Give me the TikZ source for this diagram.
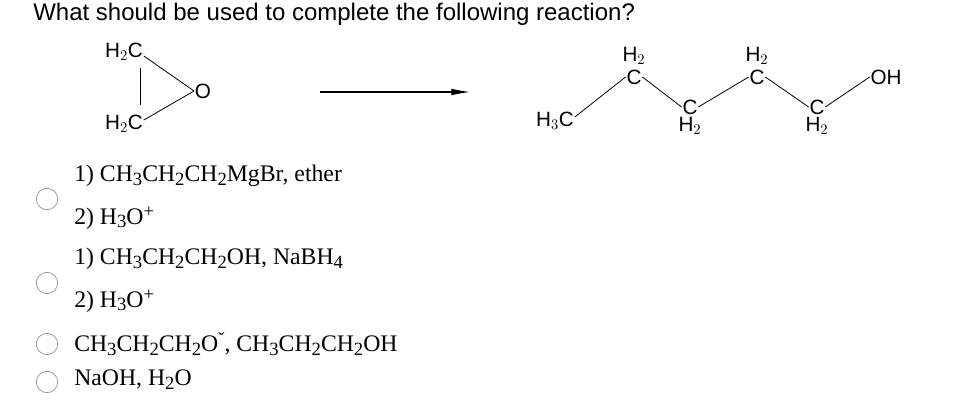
\documentclass[tikz,border=0pt]{standalone}
\usepackage{fontspec}
\setmainfont{Liberation Serif}
\setsansfont{Liberation Sans}
\usetikzlibrary{arrows.meta}
\newcommand{\sbx}[1]{\raisebox{-0.35ex}{\fontsize{14}{14}\selectfont #1}}
\newcommand{\spx}[1]{\raisebox{0.6ex}{\fontsize{14}{14}\selectfont #1}}
\begin{document}
\begin{tikzpicture}[x=0.75pt,y=-0.75pt,
  lab/.style={font=\sffamily\fontsize{15.5}{15}\selectfont,inner sep=0.5pt},
  opt/.style={font=\fontsize{17.8}{19}\selectfont,anchor=west,inner sep=0},
  radio/.style={draw=gray!80,circle,minimum size=16pt,inner sep=0,line width=0.6pt},
  bond/.style={line width=0.6pt}]
\useasboundingbox (0,0) rectangle (974,420);
\node[anchor=west,font=\sffamily\fontsize{18}{18}\selectfont,inner sep=0] (title) at (33,14) {What should be used to complete the following reaction?};
% epoxide
\node[lab] (ca) at (124,52) {H$_2$C};
\node[lab] (cb) at (124,124) {H$_2$C};
\node[lab] (o) at (203,91) {O};
\draw[bond] (140,68) -- (140,105);
\draw[bond] (ca.east) ++(0,4) -- (o.west);
\draw[bond] (cb.east) ++(0,-4) -- (o.west);
% arrow
\coordinate (a1) at (320,92); \coordinate (a2) at (470,92);
\draw[line width=0.8pt,-{Latex[length=14pt,width=5pt]}] (a1) -- (a2);
% product
\node[lab] (m) at (555,121) {H$_3$C};
\node[lab] (c1) at (634,77) {C}; \node[lab] (h1) at (634,56) {H$_2$};
\node[lab] (c2) at (690,107) {C}; \node[lab] (h2) at (690,126) {H$_2$};
\node[lab] (c3) at (757,77) {C}; \node[lab] (h3) at (757,56) {H$_2$};
\node[lab] (c4) at (817,107) {C}; \node[lab] (h4) at (817,126) {H$_2$};
\node[lab] (oh) at (886,77) {OH};
\draw[bond] (m.east) ++(0,-4) -- (c1.west);
\draw[bond] (c1.east) -- (c2.west);
\draw[bond] (c2.east) -- (c3.west);
\draw[bond] (c3.east) -- (c4.west);
\draw[bond] (c4.east) -- (oh.west);
% options
\node[radio] (r1) at (47,199) {};
\node[opt] (t1a) at (74,176) {1) CH\sbx{3}CH\sbx{2}CH\sbx{2}MgBr, ether};
\node[opt] (t1b) at (74,218) {2) H\sbx{3}O\spx{+}};
\node[radio] (r2) at (47,283) {};
\node[opt] (t2a) at (74,259) {1) CH\sbx{3}CH\sbx{2}CH\sbx{2}OH, NaBH\sbx{4}};
\node[opt] (t2b) at (74,301) {2) H\sbx{3}O\spx{+}};
\node[radio] (r3) at (47,344) {};
\node[opt] (t3) at (74,344) {CH\sbx{3}CH\sbx{2}CH\sbx{2}O\spx{\textasciicaron}, CH\sbx{3}CH\sbx{2}CH\sbx{2}OH};
\node[radio] (r4) at (47,382) {};
\node[opt] (t4) at (74,380) {NaOH, H\sbx{2}O};
\end{tikzpicture}
\end{document}
